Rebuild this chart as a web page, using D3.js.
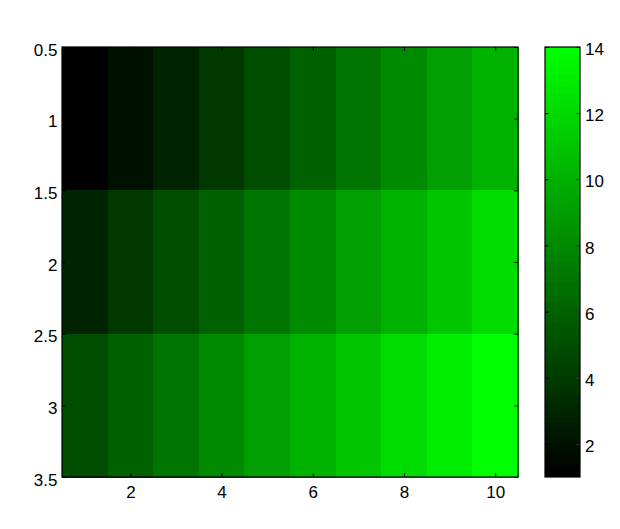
<!DOCTYPE html>
<html><head><meta charset="utf-8">
<script src="https://cdn.jsdelivr.net/npm/d3@7"></script>
<style>body{margin:0;background:#fff}svg{display:block}text{font-family:"Liberation Sans",Arial,sans-serif;font-size:17px;fill:#000}</style>
</head><body>
<svg id="c" width="620" height="529"></svg>
<script>
const rows = [1, 2, 3];
const cols = [1, 2, 3, 4, 5, 6, 7, 8, 9, 10];
const row1 = [1, 2, 3, 4, 5, 6, 7, 8, 9, 10];
const row2 = [3, 4, 5, 6, 7, 8, 9, 10, 11, 12];
const row3 = [5, 6, 7, 8, 9, 10, 11, 12, 13, 14];
const values = [row1, row2, row3];
const xTicks = [2, 4, 6, 8, 10];
const yTicks = [0.5, 1, 1.5, 2, 2.5, 3, 3.5];
const cTicks = [2, 4, 6, 8, 10, 12, 14];
const cmin = 1, cmax = 14, nColors = 64;

const svg = d3.select("#c");
const L = 62, R = 518, T = 47, B = 477;
const FS = 17;
const x = d3.scaleLinear().domain([0.5, 10.5]).range([L, R]);
const y = d3.scaleLinear().domain([0.5, 3.5]).range([T, B]);
function gcol(i){ return d3.rgb(0, Math.round(i / (nColors - 1) * 255), 0).toString(); }
function color(v){
  let idx = Math.floor((v - cmin) / (cmax - cmin) * nColors);
  idx = Math.max(0, Math.min(nColors - 1, idx));
  return gcol(idx);
}
const cells = [];
rows.forEach((r, i) => cols.forEach((c, j) => cells.push({r, c, v: values[i][j]})));
svg.append("g").attr("shape-rendering", "crispEdges").selectAll("rect").data(cells).join("rect")
  .attr("x", d => x(d.c - 0.5)).attr("y", d => y(d.r - 0.5))
  .attr("width", d => x(d.c + 0.5) - x(d.c - 0.5) + 0.5)
  .attr("height", d => y(d.r + 0.5) - y(d.r - 0.5) + 0.5)
  .attr("fill", d => color(d.v));

const tl = 4;
const fmt = d3.format("~g");
const gx = svg.append("g").attr("transform", `translate(0,${B})`)
  .call(d3.axisBottom(x).tickValues(xTicks).tickSize(-tl).tickPadding(9).tickFormat(fmt));
const gxt = svg.append("g").attr("transform", `translate(0,${T})`)
  .call(d3.axisTop(x).tickValues(xTicks).tickSize(-tl).tickFormat(""));
const gy = svg.append("g").attr("transform", `translate(${L},0)`)
  .call(d3.axisLeft(y).tickValues(yTicks).tickSize(-tl).tickPadding(4.5).tickFormat(fmt));
const gyr = svg.append("g").attr("transform", `translate(${R},0)`)
  .call(d3.axisRight(y).tickValues(yTicks).tickSize(-tl).tickFormat(""));

// colorbar
const CL = 545, CR = 580;
const cy = d3.scaleLinear().domain([cmin, cmax]).range([B, T]);
const grad = svg.append("defs").append("linearGradient").attr("id", "cb")
  .attr("x1", 0).attr("y1", 1).attr("x2", 0).attr("y2", 0);
d3.range(nColors).forEach(i => {
  grad.append("stop").attr("offset", i / nColors).attr("stop-color", gcol(i));
  grad.append("stop").attr("offset", (i + 1) / nColors).attr("stop-color", gcol(i));
});
svg.append("rect").attr("x", CL).attr("y", cy(cmax)).attr("width", CR - CL)
  .attr("height", cy(cmin) - cy(cmax)).attr("fill", "url(#cb)");
const gc = svg.append("g").attr("transform", `translate(${CR},0)`)
  .call(d3.axisRight(cy).tickValues(cTicks).tickSize(-tl).tickPadding(5));
const gcl = svg.append("g").attr("transform", `translate(${CL},0)`)
  .call(d3.axisLeft(cy).tickValues(cTicks).tickSize(-tl).tickFormat(""));

[gx, gxt, gy, gyr, gc, gcl].forEach(g => {
  g.select(".domain").remove();
  g.selectAll("line").attr("stroke", "#000");
  g.selectAll("text").attr("font-size", FS).attr("font-family", "Liberation Sans, Arial, sans-serif");
});
gy.selectAll("text").attr("dy", "0.47em");
gc.selectAll("text").attr("dy", "0.45em");
gc.selectAll("line").attr("stroke", "#333");
svg.append("rect").attr("x", L).attr("y", T).attr("width", R - L).attr("height", B - T)
  .attr("fill", "none").attr("stroke", "#000").attr("stroke-width", 1.2);
svg.append("rect").attr("x", CL).attr("y", T).attr("width", CR - CL).attr("height", B - T)
  .attr("fill", "none").attr("stroke", "#000").attr("stroke-width", 1.2);
</script>
</body></html>
